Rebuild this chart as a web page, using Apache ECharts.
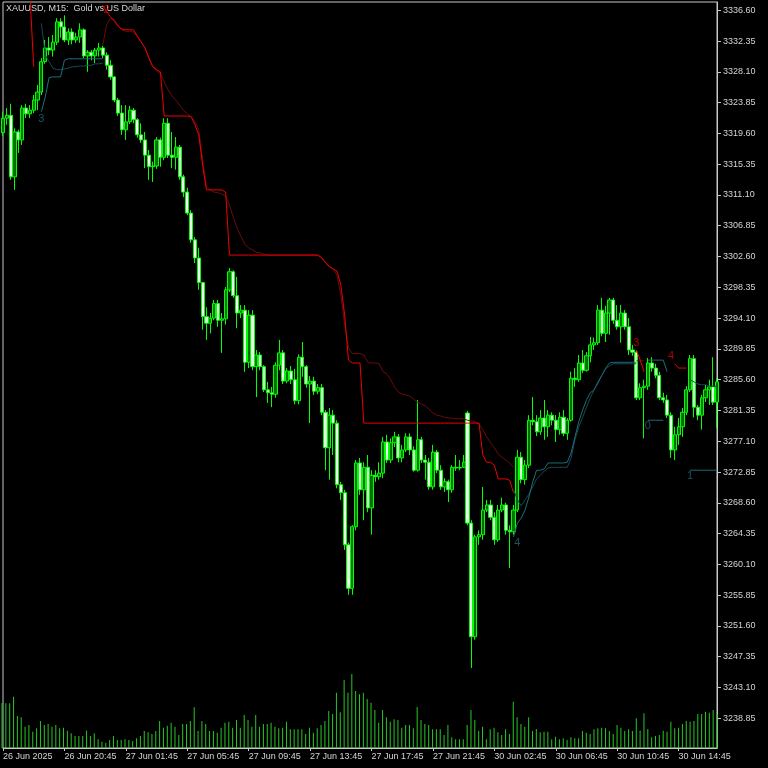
<!DOCTYPE html>
<html>
<head>
<meta charset="utf-8">
<script src="https://cdn.jsdelivr.net/npm/echarts@6/dist/echarts.min.js"></script>
<style>
html,body{margin:0;padding:0;background:#000;}
#chart{width:768px;height:768px;}
</style>
</head>
<body>
<div id="chart"></div>
<script>
// ---------- DATA ----------
const xTickLabels = ['26 Jun 2025','26 Jun 20:45','27 Jun 01:45','27 Jun 05:45','27 Jun 09:45','27 Jun 13:45','27 Jun 17:45','27 Jun 21:45','30 Jun 02:45','30 Jun 06:45','30 Jun 10:45','30 Jun 14:45'];
const yTickValues = [3336.60,3332.35,3328.10,3323.85,3319.60,3315.35,3311.10,3306.85,3302.60,3298.35,3294.10,3289.85,3285.60,3281.35,3277.10,3272.85,3268.60,3264.35,3260.10,3255.85,3251.60,3247.35,3243.10,3238.85];

const opens = [3319.7,3321.7,3322.1,3313.6,3319.8,3318.7,3323.1,3322.3,3322.8,3324.2,
3325.3,3329.5,3331.4,3331.1,3332.2,3335.0,3334.3,3332.5,3333.6,3332.5,
3332.9,3333.9,3330.3,3330.8,3330.3,3331.1,3331.4,3330.4,3329.0,3327.4,
3324.2,3322.4,3320.1,3321.2,3322.8,3321.5,3319.4,3318.7,3316.6,3315.0,
3315.1,3318.7,3316.3,3321.0,3316.6,3316.3,3317.7,3313.6,3311.5,3308.6,
3304.9,3302.4,3299.0,3294.3,3293.4,3294.1,3296.1,3293.8,3294.0,3298.0,
3300.5,3297.2,3294.8,3295.2,3288.0,3294.5,3287.4,3289.0,3287.4,3284.2,
3283.8,3283.6,3287.6,3289.3,3285.4,3286.8,3285.6,3282.7,3288.7,3287.4,
3285.0,3285.4,3284.0,3284.5,3281.1,3276.2,3280.7,3279.6,3271.1,3270.0,
3262.8,3256.8,3265.3,3274.1,3270.4,3273.5,3267.9,3272.4,3272.2,3272.7,
3277.0,3274.5,3276.9,3277.7,3274.8,3275.9,3277.7,3275.9,3273.1,3277.3,
3274.5,3274.2,3270.8,3275.6,3273.1,3270.8,3271.5,3270.4,3273.5,3273.4,
3273.5,3281.0,3265.8,3250.1,3263.9,3264.2,3267.6,3268.3,3266.6,3263.5,
3267.6,3268.3,3264.8,3264.6,3267.6,3274.9,3271.8,3273.8,3280.0,3279.8,
3278.4,3280.3,3279.1,3280.7,3280.0,3278.7,3280.4,3278.2,3280.0,3285.8,
3285.6,3287.9,3286.9,3288.9,3290.4,3290.7,3295.2,3292.0,3294.8,3296.6,
3293.8,3292.9,3294.8,3292.9,3289.7,3289.4,3283.1,3284.5,3284.7,3287.9,
3287.2,3286.2,3283.1,3282.8,3280.7,3275.9,3278.0,3279.1,3281.1,3284.2,
3288.5,3281.8,3280.7,3283.1,3284.2,3284.6,3282.5];

const closes = [3321.7,3322.1,3313.6,3319.8,3318.7,3323.1,3322.3,3322.8,3324.2,3325.3,
3329.5,3331.4,3331.1,3332.2,3335.0,3334.3,3332.5,3333.6,3332.5,3332.9,
3333.9,3330.3,3330.8,3330.3,3331.1,3331.4,3330.4,3329.0,3327.4,3324.2,
3322.4,3320.1,3321.2,3322.8,3321.5,3319.4,3318.7,3316.6,3315.0,3315.1,
3318.7,3316.3,3321.0,3316.6,3316.3,3317.7,3313.6,3311.5,3308.6,3304.9,
3302.4,3299.0,3294.3,3293.4,3294.1,3296.1,3293.8,3294.0,3298.0,3300.5,
3297.2,3294.8,3295.2,3288.0,3294.5,3287.4,3289.0,3287.4,3284.2,3283.8,
3283.6,3287.6,3289.3,3285.4,3286.8,3285.6,3282.7,3288.7,3287.4,3285.0,
3285.4,3284.0,3284.5,3281.1,3276.2,3280.7,3279.6,3271.1,3270.0,3262.8,
3256.8,3265.3,3274.1,3270.4,3273.5,3267.9,3272.4,3272.2,3272.7,3277.0,
3274.5,3276.9,3277.7,3274.8,3275.9,3277.7,3275.9,3273.1,3277.3,3274.5,
3274.2,3270.8,3275.6,3273.1,3270.8,3271.5,3270.4,3273.5,3273.4,3273.5,
3274.2,3265.8,3250.1,3263.9,3264.2,3267.6,3268.3,3266.6,3263.5,3267.6,
3268.3,3264.8,3264.6,3267.6,3274.9,3271.8,3273.8,3280.0,3279.8,3278.4,
3280.3,3279.1,3280.7,3280.0,3278.7,3280.4,3278.2,3280.0,3285.8,3285.6,
3287.9,3286.9,3288.9,3290.4,3290.7,3295.2,3292.0,3294.8,3296.6,3293.8,
3292.9,3294.8,3292.9,3289.7,3289.4,3283.1,3284.5,3284.7,3287.9,3287.2,
3286.2,3283.1,3282.8,3280.7,3275.9,3278.0,3279.1,3281.1,3284.2,3288.5,
3281.8,3280.7,3283.1,3284.2,3284.6,3282.5,3285.3];

const lows = [3319.2,3320.8,3313.2,3311.8,3316.9,3318.0,3321.7,3321.7,3322.4,3322.8,
3324.9,3329.2,3330.4,3330.2,3331.8,3332.8,3332.2,3331.8,3331.9,3332.1,
3332.1,3330.0,3328.1,3329.7,3329.3,3330.2,3330.0,3328.4,3327.0,3323.9,
3322.0,3319.4,3318.7,3320.9,3321.0,3319.0,3318.3,3314.8,3313.2,3312.9,
3314.7,3315.0,3315.9,3316.2,3314.8,3314.6,3313.2,3310.8,3308.3,3304.5,
3301.7,3298.0,3292.5,3291.1,3292.0,3293.8,3292.9,3289.3,3293.2,3297.7,
3296.9,3292.7,3294.1,3286.7,3287.2,3286.9,3283.2,3286.9,3283.9,3282.4,
3281.8,3283.1,3286.9,3285.0,3285.1,3285.0,3282.2,3282.2,3286.0,3284.5,
3279.6,3283.5,3283.6,3280.7,3273.1,3271.8,3275.2,3270.6,3269.0,3262.1,
3255.9,3255.9,3264.8,3269.7,3266.2,3267.3,3264.2,3271.5,3271.8,3272.0,
3274.1,3274.1,3276.3,3274.2,3274.2,3275.6,3275.2,3272.9,3272.9,3274.1,
3271.8,3270.4,3270.4,3272.7,3270.4,3270.1,3268.7,3270.0,3273.0,3273.1,
3273.4,3265.5,3245.8,3249.7,3262.8,3263.5,3267.3,3266.2,3262.8,3263.2,
3267.3,3264.2,3259.6,3264.2,3267.3,3271.3,3271.1,3273.4,3279.3,3277.8,
3278.0,3277.3,3277.7,3279.3,3277.0,3278.0,3277.8,3277.3,3279.8,3284.6,
3285.3,3286.5,3286.7,3288.0,3289.7,3290.4,3291.6,3290.8,3291.8,3293.3,
3292.5,3290.7,3292.5,3289.0,3288.9,3282.8,3282.8,3277.5,3284.2,3286.7,
3285.8,3282.8,3282.4,3280.3,3274.8,3274.5,3276.6,3277.7,3280.7,3283.9,
3280.4,3280.0,3278.7,3282.5,3282.1,3282.1,3278.9];

const highs = [3322.6,3323.1,3323.7,3320.3,3320.1,3323.5,3323.7,3323.5,3324.9,3326.3,
3330.0,3332.5,3332.9,3333.2,3335.5,3335.5,3335.9,3334.1,3334.1,3333.5,
3334.8,3334.1,3331.1,3331.1,3331.4,3332.1,3331.7,3330.8,3329.7,3327.5,
3324.5,3323.5,3323.5,3323.4,3323.1,3321.7,3321.0,3319.8,3317.3,3315.7,
3319.1,3319.0,3321.7,3321.7,3319.8,3319.1,3318.0,3313.9,3312.1,3309.0,
3305.3,3303.8,3299.1,3295.6,3294.8,3296.6,3296.6,3294.8,3298.4,3301.0,
3300.7,3299.8,3295.9,3295.9,3295.2,3295.2,3289.7,3289.4,3287.6,3285.3,
3284.6,3288.0,3291.1,3289.7,3287.2,3287.5,3287.1,3289.1,3290.8,3287.6,
3286.1,3286.0,3285.0,3285.0,3281.4,3281.7,3281.4,3280.0,3271.5,3270.4,
3263.1,3265.5,3274.5,3274.8,3274.2,3275.2,3273.1,3273.1,3274.2,3277.7,
3278.0,3277.5,3278.4,3278.1,3276.6,3278.2,3278.2,3276.4,3282.8,3277.7,
3275.2,3274.8,3276.6,3275.9,3273.8,3272.0,3271.8,3273.8,3275.2,3274.5,
3275.2,3281.3,3266.2,3264.2,3264.8,3270.8,3269.0,3269.0,3267.3,3268.3,
3269.3,3268.6,3265.5,3268.3,3275.9,3275.6,3274.5,3280.7,3283.2,3280.7,
3281.4,3282.8,3281.4,3281.1,3280.7,3281.1,3281.4,3280.3,3286.7,3287.2,
3289.0,3289.7,3289.4,3291.5,3291.4,3295.9,3296.9,3295.8,3296.9,3296.9,
3295.9,3295.9,3295.2,3294.1,3290.4,3289.7,3285.1,3285.6,3288.6,3288.7,
3287.8,3286.7,3283.8,3283.5,3281.1,3279.1,3280.3,3281.7,3284.7,3289.0,
3289.0,3282.1,3283.5,3284.9,3285.6,3288.7,3285.8];

const volumes = [4500,4470,4470,5130,3200,3070,2130,2300,1630,1970,
2700,2300,2400,2130,2300,1970,2030,1730,1470,1200,
1200,1200,1730,1200,1470,870,630,530,800,1200,
800,800,870,800,700,970,1200,1700,1570,1400,
1700,2700,2030,2230,2530,2130,1300,2400,2400,2700,
4070,1700,2700,2400,1700,1700,1530,2030,2530,2630,
2030,2800,2030,3300,2800,2130,3300,2130,2400,2400,
2530,2130,1970,2030,2630,1870,1870,1870,1870,1400,
2030,1530,1970,2300,2700,3700,3400,5530,3570,6800,
5530,7400,5700,5370,5530,4900,4530,3800,2530,3800,
3070,2630,2870,2800,2030,2300,2300,1970,4100,2800,
2400,2300,1870,1870,1870,1300,2300,1070,870,870,
870,2300,3800,2800,1700,2130,870,1870,2030,1570,
1300,1870,1400,4630,3070,2400,2130,3070,1700,1900,
1570,1630,1630,870,1130,870,970,800,1070,970,
970,1700,1530,1400,1870,1970,2030,1970,1700,1400,
2300,2030,1700,1870,1700,2970,1730,3470,1900,1070,
1200,1300,1730,1630,2630,1970,2030,2400,2700,2630,
2700,3400,3400,3630,3530,3800,3400];

// indicator segments (start bar index + values)
const redBrightA_start = 7;
const redBrightA = [3338.9,3328.8];
const redBrightB_start = 26;
const redBrightB = [3337.3,3336.4,3335.7,3335.1,3334.4,3334.0,3333.9,3333.9,3333.9,3333.0,
3332.2,3331.4,3330.0,3328.8,3328.4,3328.1,
3322.0,3322.0,3322.0,3322.0,3322.0,3322.0,3322.0,
3321.9,3320.8,3319.4,3315.2,
3311.8,3311.8,3311.8,3311.8,3311.8,3311.5,
3302.8,3302.8,3302.8,3302.8,3302.8,3302.8,3302.8,3302.8,3302.8,3302.8,3302.8,3302.8,
3302.8,3302.8,3302.8,3302.8,3302.8,3302.8,3302.8,3302.8,3302.8,3302.8,3302.8,3302.8,
3302.4,3301.8,3301.2,3300.9,3300.6,3298.7,3294.5,3288.3,3287.9,3287.9,3287.9,
3279.6,3279.6,3279.6,3279.6,3279.6,3279.6,3279.6,3279.6,3279.6,3279.6,
3279.6,3279.6,3279.6,3279.6,3279.6,3279.6,3279.6,3279.6,3279.6,3279.6,
3279.6,3279.6,3279.6,3279.6,3279.6,3279.6,3279.6,3279.6,3279.6,3279.6,3279.6,
3275.2,3274.2,3274.2,3273.8,3271.9,3271.9,3271.9,3271.7,3270.0];
const redDarkB_start = 26;
const redDarkB = [3331.8,3334.6,3335.5,3335.3,3334.4,3333.9,3333.7,3333.7,3333.6,3332.9,
3332.2,3331.4,3330.0,3328.9,3328.2,3327.9,3326.7,3325.6,3324.8,3324.2,
3323.5,3322.8,3322.3,3321.9,3321.2,3320.1,3315.9,3312.3,3311.8,3311.5,
3311.4,3311.2,3311.0,3309.7,3308.0,3306.5,3305.4,3304.3,3303.8,3303.5,
3303.2,3303.1,3302.9,
3302.8,3302.8,3302.8,3302.8,3302.8,3302.8,3302.8,3302.8,3302.8,3302.8,3302.8,3302.8,3302.8,3302.8,
3302.5,3301.7,3301.2,3300.9,3300.0,3297.3,3293.2,3290.0,3289.2,3289.2,
3289.2,3289.0,3288.0,3287.9,3287.9,3287.8,3286.7,3286.4,3285.6,3284.6,
3283.9,3283.6,3283.5,3283.3,3282.9,3282.5,3282.2,3282.0,3281.5,3281.0,
3280.7,3280.6,3280.4,3280.3,3280.3,3280.2,3280.2,3280.2,3280.0,3279.9,
3279.8,3279.5,3278.7,3277.7,3276.9,3276.2,3275.3,3274.9,3274.5,3274.1,3273.5];
const redBrightC_start = 165;
const redBrightC = [3289.7,3288.3,3286.7];
const redDarkC_start = 165;
const redDarkC = [3288.2,3288.2,3288.2];
const redBrightD_start = 175;
const redBrightD = [3287.8,3287.2,3287.2,3287.2];

const tealBrightA_start = 10;
const tealBrightA = [3322.6,3324.6,3327.3,3327.4,3327.4,3327.4,3329.7,3329.9,3329.9,3329.9,3329.9,3329.9,3329.9,3329.9,3329.9,3329.9,3329.9];
const tealDarkA_start = 10;
const tealDarkA = [3334.8,3330.4,3329.5,3328.6,3328.4,3328.4,3328.5,3328.6,3328.8,3328.8,3328.9,3328.9,3329.0,3329.0,3329.2,3329.2,3329.3];
const tealBrightB_start = 133;
const tealBrightB = [3263.9,3265.8,3266.5,3267.6,3269.4,3271.5,3273.1,3273.1,3273.3,3274.1,
3274.1,3274.1,3274.1,3274.1,3274.2,3275.5,3277.7,3279.8,3281.4,3282.8,
3283.8,3284.2,3285.3,3286.2,3287.2,3287.9,
3288.0,3288.0,3288.0,3288.0,3288.0,3288.0,3288.0];
const tealDarkB_start = 133;
const tealDarkB = [3270.4,3269.0,3268.2,3269.0,3269.8,3270.8,3271.9,3272.4,3273.0,3273.4,
3273.5,3273.5,3273.5,3273.5,3273.5,
3274.8,3277.3,3279.1,3280.4,3281.8,3283.1,3284.2,3285.1,3286.2,3287.1,3287.5,
3287.8,3287.8,3287.8,3287.8,3287.8,3287.8,3287.8];
const tealC_start = 168;
const tealC = [3288.3,3288.3,3288.3,3288.3,3288.3,3286.7];
const tealD_start = 168;
const tealD = [3280.0,3280.0,3280.0,3280.0,3280.0];
const tealE_start = 179;
const tealE = [3273.1,3273.1,3273.1,3273.1,3273.1,3273.1,3273.1,3273.1];
const tealF_start = 179;
const tealF = [3285.6,3285.3,3285.0,3284.9,3284.9,3284.7,3284.7,3284.6];

const redLabels = [[27,3336.6,'2'],[165,3290.7,'3'],[174,3288.9,'4']];
const tealLabels = [[10,3321.6,'3'],[134,3263.1,'4'],[168,3279.2,'0'],[179,3272.3,'1']];

// ---------- BUILD ----------
const N = closes.length;
const cats = closes.map((_, i) => String(i));
const candleData = closes.map((c, i) => [opens[i], c, lows[i], highs[i]]);
function seg(start, vals) {
  const a = new Array(N).fill(null);
  vals.forEach((v, k) => { a[start + k] = v; });
  return a;
}
const FONT = 'Liberation Sans, Arial, sans-serif';
const RED = '#f00000', RED_D = '#6e0b0b', TEAL = '#1d6e7c', TEAL_D = '#174a54';
function lineSeries(data, color) {
  return {type:'line', data, xAxisIndex:0, yAxisIndex:0, showSymbol:false, symbol:'none',
    connectNulls:false, lineStyle:{color, width:1}, z:8, silent:true, animation:false};
}
function labelSeries(data, color) {
  return {type:'scatter', data, xAxisIndex:0, yAxisIndex:0, symbolSize:1, clip:false,
    itemStyle:{color:'rgba(0,0,0,0)'}, z:20, silent:true,
    label:{show:true, position:'inside', formatter:p => p.data[2], color, fontSize:11, fontFamily:FONT}};
}
const isTick = (idx) => idx % 16 === 0;

const option = {
  backgroundColor:'#000',
  animation:false,
  title:{text:'XAUUSD, M15:  Gold vs US Dollar', left:6, top:4, padding:0,
    textStyle:{color:'#d8d8d8', fontSize:9, fontWeight:'normal', fontFamily:FONT}},
  grid:[
    {left:2, right:51, top:2, bottom:20, show:true, borderColor:'#c8c8c8', borderWidth:1, backgroundColor:'#000'},
    {left:2, right:51, top:660, bottom:20}
  ],
  xAxis:[
    {type:'category', gridIndex:0, data:cats, boundaryGap:false,
     axisLine:{show:true, lineStyle:{color:'#c8c8c8'}},
     axisTick:{show:true, interval:isTick, length:3, lineStyle:{color:'#c8c8c8'}},
     axisLabel:{show:true, interval:isTick, align:'left', margin:4, color:'#d4d4d4', fontSize:9, fontFamily:FONT,
       formatter:(v, idx) => xTickLabels[idx / 16] || ''},
     splitLine:{show:false}},
    {type:'category', gridIndex:1, data:cats, boundaryGap:false, show:false}
  ],
  yAxis:[
    {type:'value', gridIndex:0, position:'right', min:3234.75, max:3337.74, scale:true,
     axisLine:{show:true, lineStyle:{color:'#c8c8c8'}},
     axisTick:{show:true, customValues:yTickValues, length:4, lineStyle:{color:'#c8c8c8'}},
     axisLabel:{show:true, customValues:yTickValues, margin:6, color:'#d4d4d4', fontSize:9, fontFamily:FONT,
       formatter:v => v.toFixed(2)},
     splitLine:{show:false}},
    {type:'value', gridIndex:1, min:0, max:8800, show:false, splitLine:{show:false}}
  ],
  series:[
    {type:'bar', data:volumes, xAxisIndex:1, yAxisIndex:1, barWidth:1, itemStyle:{color:'#25c825'}, z:1, silent:true},
    {type:'candlestick', data:candleData, xAxisIndex:0, yAxisIndex:0, barWidth:3.6, z:3, silent:true,
     itemStyle:{color:'#007000', color0:'#e2ffe2', borderColor:'#00ff00', borderColor0:'#00ff00', borderWidth:1}},
    lineSeries(seg(redDarkB_start, redDarkB), RED_D),
    lineSeries(seg(redDarkC_start, redDarkC), RED_D),
    lineSeries(seg(redBrightA_start, redBrightA), RED),
    lineSeries(seg(redBrightB_start, redBrightB), RED),
    lineSeries(seg(redBrightC_start, redBrightC), RED),
    lineSeries(seg(redBrightD_start, redBrightD), RED),
    lineSeries(seg(tealDarkA_start, tealDarkA), TEAL_D),
    lineSeries(seg(tealDarkB_start, tealDarkB), TEAL_D),
    lineSeries(seg(tealBrightA_start, tealBrightA), TEAL),
    lineSeries(seg(tealBrightB_start, tealBrightB), TEAL),
    lineSeries(seg(tealC_start, tealC), TEAL),
    lineSeries(seg(tealD_start, tealD), TEAL),
    lineSeries(seg(tealE_start, tealE), TEAL),
    lineSeries(seg(tealF_start, tealF), TEAL_D),
    labelSeries(redLabels, '#e00000'),
    labelSeries(tealLabels, '#1f6a78')
  ]
};
const chart = echarts.init(document.getElementById('chart'), null, {renderer:'canvas'});
chart.setOption(option);
</script>
</body>
</html>
